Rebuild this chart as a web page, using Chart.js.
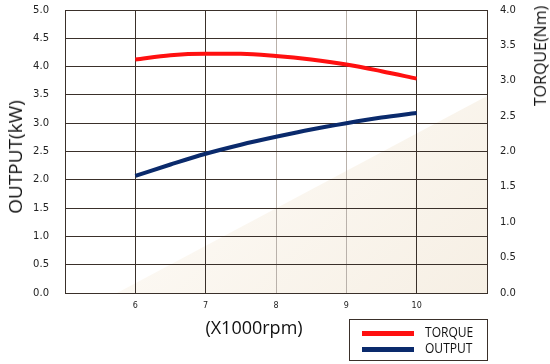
<!DOCTYPE html>
<html>
<head>
<meta charset="utf-8">
<script src="https://cdn.jsdelivr.net/npm/chart.js@4.4.0/dist/chart.umd.min.js"></script>
<style>
  body { margin: 0; background: #fff; }
  #wrap { position: relative; width: 550px; height: 364px; overflow: hidden; }
  #c { position: absolute; left: 0; top: -12px; }
  .ttl { position: absolute; font-family: "Open Sans", "Liberation Sans", sans-serif; color: #111; white-space: nowrap; }
  #legend { position: absolute; left: 349px; top: 319px; width: 137px; height: 40px; border: 1px solid #3a302a; background: #fff;
    font-family: "Liberation Sans Narrow", "Open Sans", sans-serif; font-size: 14px; color: #111; }
  .row { position: absolute; left: 0; width: 137px; height: 16px; }
  .sw { position: absolute; left: 12px; top: 6px; width: 52px; height: 5px; }
  .lb { position: absolute; left: 75px; top: -3px; transform: scaleX(0.86); transform-origin: left center; }
</style>
</head>
<body>
<div id="wrap">
  <canvas id="c" width="550" height="376"></canvas>
  <div class="ttl" style="left:15px;top:157px;font-size:19px;transform:translate(-50%,-50%) rotate(-90deg);">OUTPUT(kW)</div>
  <div class="ttl" style="left:540px;top:56px;font-size:16px;transform:translate(-50%,-50%) rotate(-90deg);">TORQUE(Nm)</div>
  <div class="ttl" style="left:254px;top:327px;font-size:18px;transform:translate(-50%,-50%);">(X1000rpm)</div>
  <div id="legend">
    <div class="row" style="top:5px;"><div class="sw" style="background:#ff1010"></div><div class="lb">TORQUE</div></div>
    <div class="row" style="top:21px;"><div class="sw" style="background:#0a2a6c"></div><div class="lb">OUTPUT</div></div>
  </div>
</div>
<script>
const rpm = [6, 6.5, 7, 7.5, 8, 8.5, 9, 9.5, 10];
const torqueNm = [3.30, 3.36, 3.38, 3.38, 3.35, 3.30, 3.23, 3.135, 3.03];
const outputKw = [2.07, 2.27, 2.46, 2.62, 2.76, 2.89, 3.00, 3.10, 3.18];
const rpmTicks = [6, 7, 8, 9, 10];

const GRID = '#3a302a';
const tickFont = { family: 'DejaVu Sans', size: 10 };

// faint beige wedge behind the grid, bottom right
const bgWedge = {
    id: 'bgWedge',
    beforeDraw(chart) {
        const a = chart.chartArea;
        const ctx = chart.ctx;
        ctx.save();
        const g = ctx.createLinearGradient(a.left + 200, a.top + 60, a.right, a.bottom);
        g.addColorStop(0, '#fdfaf5');
        g.addColorStop(1, '#f6efe4');
        ctx.fillStyle = g;
        ctx.beginPath();
        ctx.moveTo(a.left + 52, a.bottom);
        ctx.lineTo(a.right, a.bottom);
        ctx.lineTo(a.right, a.top + 86);
        ctx.closePath();
        ctx.fill();
        ctx.restore();
    }
};

function toPts(ys) {
    return rpm.map((x, i) => ({ x: x, y: ys[i] }));
}

new Chart(document.getElementById('c'), {
    type: 'line',
    data: {
        datasets: [
            { label: 'TORQUE', data: toPts(torqueNm), yAxisID: 'yR', borderColor: '#ff1010', borderWidth: 4, pointRadius: 0, cubicInterpolationMode: 'monotone' },
            { label: 'OUTPUT', data: toPts(outputKw), yAxisID: 'yL', borderColor: '#0a2a6c', borderWidth: 4, pointRadius: 0, cubicInterpolationMode: 'monotone' }
        ]
    },
    options: {
        responsive: false,
        animation: false,
        layout: { padding: 0 },
        plugins: { legend: { display: false }, tooltip: { enabled: false } },
        scales: {
            x: {
                type: 'linear', min: 5, max: 11,
                afterBuildTicks: s => { s.ticks = [5].concat(rpmTicks, [11]).map(v => ({ value: v })); },
                ticks: { callback: v => rpmTicks.includes(v) ? String(v) : '', font: { family: 'DejaVu Sans', size: 8 }, color: '#222', padding: 8, maxRotation: 0 },
                grid: { drawTicks: false, color: c => (c.tick && (c.tick.value === 8 || c.tick.value === 9)) ? '#b9b1aa' : GRID },
                border: { color: GRID },
                afterFit: s => { s.height = 71; }
            },
            yL: {
                position: 'left', min: 0, max: 5,
                ticks: { stepSize: 0.5, callback: v => v.toFixed(1), font: tickFont, color: '#222', padding: 16 },
                grid: { drawTicks: false, color: GRID },
                border: { color: GRID },
                afterFit: s => { s.width = 65; }
            },
            yR: {
                position: 'right', min: 0, max: 4,
                ticks: { stepSize: 0.5, callback: v => v.toFixed(1), font: tickFont, color: '#222', padding: 13 },
                grid: { display: false, drawTicks: false },
                border: { color: GRID },
                afterFit: s => { s.width = 63; }
            }
        }
    },
    plugins: [bgWedge]
});
</script>
</body>
</html>
